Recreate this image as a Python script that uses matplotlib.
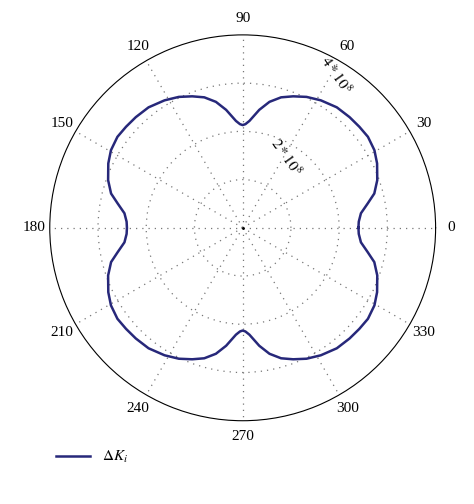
import numpy as np
import matplotlib.pyplot as plt

plt.rcParams['font.family'] = ['Liberation Serif', 'DejaVu Serif']
plt.rcParams['mathtext.fontset'] = 'stix'

# radius for the first quadrant (degrees, value)
ang_q = [0, 3, 7, 11, 14.6, 19.5, 25.6, 30.5, 36, 40.9, 46, 52, 58.5, 64, 69, 73.6, 78, 82, 86.4, 88.5, 90]
r_q = [2.40e8, 2.41e8, 2.47e8, 2.64e8, 2.82e8, 2.96e8, 3.09e8, 3.17e8, 3.21e8, 3.20e8, 3.19e8,
       3.17e8, 3.10e8, 3.02e8, 2.92e8, 2.82e8, 2.67e8, 2.47e8, 2.22e8, 2.15e8, 2.13e8]

# mirror into the other three quadrants
ang = list(ang_q) + [180 - a for a in ang_q[::-1]]
r = list(r_q) + r_q[::-1]
ang = ang + [180 + a for a in ang] + [360]
r = r + r + [r_q[0]]
theta = np.deg2rad(ang)

fig = plt.figure(figsize=(4.74, 5.04), dpi=100)
ax = fig.add_axes([0.105, 0.165, 0.814, 0.766], projection='polar')

line, = ax.plot(theta, r, color='#27287a', lw=1.8, label=r'$\Delta K_i$')
ax.plot([0], [0], 'k.', ms=2)

ax.set_ylim(0, 4e8)
ax.set_rgrids([1e8, 2e8, 3e8], labels=['', '', ''])
ax.set_thetagrids(np.arange(0, 360, 30), labels=[str(a) for a in range(0, 360, 30)], fontsize=11)
ax.tick_params(axis='x', pad=1)
ax.grid(True, color='#777777', ls=(0, (1, 4)), lw=0.9)
ax.spines['polar'].set_linewidth(0.8)

ax.text(np.deg2rad(58.6), 1.73e8, r'$2*10^8$', rotation=-55, ha='center', va='center',
        fontsize=11)
ax.text(np.deg2rad(58.6), 3.71e8, r'$4*10^8$', rotation=-55, ha='center', va='center',
        fontsize=11)

fig.legend(handles=[line], loc='lower left', bbox_to_anchor=(0.09, 0.05), frameon=False,
           fontsize=11, handlelength=2.2)

fig.savefig('out.png', dpi=100)
